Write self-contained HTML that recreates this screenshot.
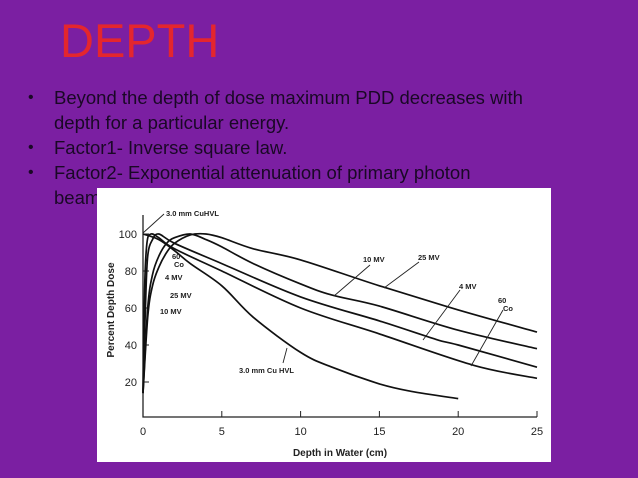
<!DOCTYPE html>
<html><head><meta charset="utf-8"><style>
body{margin:0;width:638px;height:478px;background:#7b1fa2;overflow:hidden;position:relative;font-family:"Liberation Sans",sans-serif}
#title{position:absolute;left:60px;top:17px;font-size:47px;color:#e4262e;line-height:1}
.b{position:absolute;left:54px;font-size:18.5px;color:#1a0826;line-height:25px;white-space:nowrap}
.dot{position:absolute;left:28px;font-size:16px;color:#1a0826;line-height:25px}
svg{position:absolute;left:0;top:0}
</style></head><body>
<div id="title">DEPTH</div>
<div class="dot" style="top:85px">•</div>
<div class="b" style="top:85px">Beyond the depth of dose maximum PDD decreases with<br>depth for a particular energy.</div>
<div class="dot" style="top:135px">•</div>
<div class="b" style="top:135px">Factor1- Inverse square law.</div>
<div class="dot" style="top:160px">•</div>
<div class="b" style="top:160px">Factor2- Exponential attenuation of primary photon<br>beam.</div>
<svg id="chart" width="638" height="478"></svg>
<script>
const xTicks=[0,5,10,15,20,25];
const yTicks=[20,40,60,80,100];
const s25=[[0,14],[0.3,55],[0.6,72],[1,82],[1.5,90],[2,95],[3,99.5],[4,100],[5,98],[7,92],[10,86],[15,72],[20,59],[25,47]];
const s10=[[0,14],[0.3,60],[0.6,78],[1,88],[1.5,95],[2,98],[3,100],[4,97],[5,93],[7,84],[10,73],[12,67],[15,61],[20,48],[25,38]];
const s4=[[0,14],[0.15,60],[0.3,88],[0.6,97],[1,100],[2,95],[5,84],[10,66],[15,53],[18.6,43],[20,40],[25,28]];
const sCo=[[0,14],[0.1,70],[0.25,95],[0.5,100],[1,98],[2,92],[5,80],[10,60],[15,46],[21,29],[25,22]];
const sCu=[[0,100],[1,97],[2,91],[3,84],[5,72],[7,55],[10,36],[12,28],[15,19],[17,15],[20,11]];
const X=v=>143+v*15.76;
function Yp(v){return 234+(100-v)*1.85;}
const svg=document.getElementById('chart');const NS='http://www.w3.org/2000/svg';
function mk(t,a,p){const e=document.createElementNS(NS,t);for(const k in a)e.setAttribute(k,a[k]);(p||svg).appendChild(e);return e;}
const bg=mk('rect',{x:97,y:188,width:454,height:274,fill:'#fff'});


const ax=mk('path',{d:`M${X(0)} 215 V417 H${X(25)}`,stroke:'#222',fill:'none','stroke-width':1.3});


xTicks.forEach(t=>{mk('line',{x1:X(t),x2:X(t),y1:417,y2:411,stroke:'#222'});
const tx=mk('text',{x:X(t),y:435,'font-size':11,'text-anchor':'middle',fill:'#222'});tx.textContent=t;

});
yTicks.forEach(t=>{mk('line',{x1:X(0),x2:X(0)+6,y1:Yp(t),y2:Yp(t),stroke:'#222'});
const tx=mk('text',{x:137,y:Yp(t)+4,'font-size':11,'text-anchor':'end',fill:'#222'});tx.textContent=t;

});
const xt=mk('text',{x:340,y:456,'font-size':10,'font-weight':'bold','text-anchor':'middle',fill:'#222'});xt.textContent='Depth in Water (cm)';


const yt=mk('text',{x:0,y:0,'font-size':10,'font-weight':'bold','text-anchor':'middle',fill:'#222',transform:'translate(114,310) rotate(-90)'});yt.textContent='Percent Depth Dose';


function line(d,name){
  const p=d.map(q=>[X(q[0]),Yp(q[1])]);
  let s='M'+p[0][0].toFixed(1)+' '+p[0][1].toFixed(1);
  for(let i=0;i<p.length-1;i++){
    const p0=p[Math.max(0,i-1)],p1=p[i],p2=p[i+1],p3=p[Math.min(p.length-1,i+2)];
    const c1=[p1[0]+(p2[0]-p0[0])/6,p1[1]+(p2[1]-p0[1])/6];
    const c2=[p2[0]-(p3[0]-p1[0])/6,p2[1]-(p3[1]-p1[1])/6];
    s+=` C${c1[0].toFixed(1)} ${c1[1].toFixed(1)} ${c2[0].toFixed(1)} ${c2[1].toFixed(1)} ${p2[0].toFixed(1)} ${p2[1].toFixed(1)}`;
  }
  const e=mk('path',{d:s,fill:'none',stroke:'#111','stroke-width':1.7,'stroke-linejoin':'round'});
  
  }
line(s25,'curve-25mv');line(s10,'curve-10mv');line(s4,'curve-4mv');line(sCo,'curve-co60');line(sCu,'curve-3mm-cu-hvl');
function lab(x,y,t,n){const e=mk('text',{x:x,y:y,'font-size':7.5,'font-weight':'bold',fill:'#222'});e.textContent=t;

}
function arr(x1,y1,x2,y2){mk('line',{x1:x1,y1:y1,x2:x2,y2:y2,stroke:'#222','stroke-width':0.9});}
lab(166,216,'3.0 mm CuHVL','label-cu-top');arr(164,214,143,233);
lab(363,262,'10 MV','label-10mv');arr(370,265,334,296);
lab(418,260,'25 MV','label-25mv');arr(419,262,384,288);
lab(459,289,'4 MV','label-4mv');arr(460,290,423,340);
lab(503,311,'Co','label-co');lab(498,303,'60','label-co-60');arr(503,310,471,366);
lab(239,373,'3.0 mm Cu HVL','label-cu-bottom');arr(283,363,287,348);
lab(174,267,'Co','label-co-left');lab(172,259,'60','label-co-left-60');
lab(165,280,'4 MV','label-4mv-left');lab(170,298,'25 MV','label-25mv-left');lab(160,314,'10 MV','label-10mv-left');
</script>
</body></html>
